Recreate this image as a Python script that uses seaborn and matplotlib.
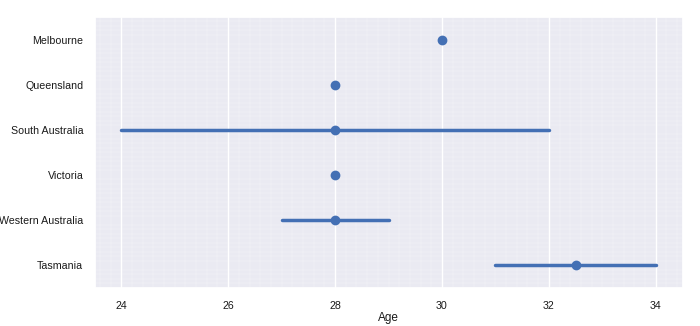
import matplotlib
matplotlib.use("Agg")
import matplotlib.pyplot as plt
import seaborn as sns
import pandas as pd
from matplotlib.ticker import AutoMinorLocator

states = ["Melbourne", "Queensland", "South Australia", "Victoria", "Western Australia", "Tasmania"]
ages = {
    "Melbourne": [30],
    "Queensland": [28],
    "South Australia": [24, 32],
    "Victoria": [28],
    "Western Australia": [27, 29],
    "Tasmania": [31, 34],
}

rows = [(s, a) for s in states for a in ages[s]]
df = pd.DataFrame(rows, columns=["State", "Age"])

sns.set_theme(style="darkgrid")
plt.rcParams['font.family'] = ['Liberation Sans', 'DejaVu Sans']

fig, ax = plt.subplots(figsize=(7, 3.26), dpi=100)
sns.pointplot(data=df, x="Age", y="State", order=states, errorbar=("pi", 100),
              linestyle="none", color="#4470b4", markersize=5, err_kws={"linewidth": 2.5},
              ax=ax)
ax.set_ylabel("")
ax.set_xlabel("Age", fontsize=8.5, labelpad=1, color="#1a1a1a")
ax.tick_params(axis="both", labelsize=7.7, labelcolor="#1a1a1a")
ax.tick_params(axis="y", pad=2)
ax.xaxis.set_minor_locator(AutoMinorLocator(10))
ax.yaxis.set_minor_locator(AutoMinorLocator(10))
ax.grid(which="minor", color="white", linewidth=0.3, alpha=0.5)
ax.tick_params(which="minor", length=0)
fig.subplots_adjust(left=0.135, right=0.975, top=0.948, bottom=0.117)
fig.savefig("out.png", dpi=100)
